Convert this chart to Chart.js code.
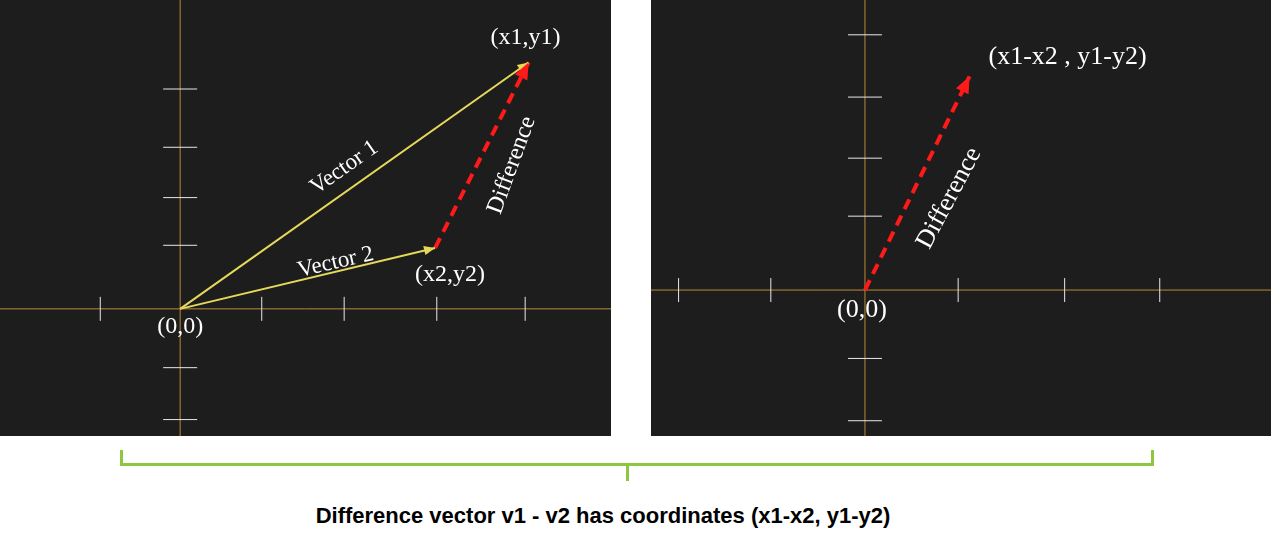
<!DOCTYPE html>
<html>
<head>
<meta charset="utf-8">
<script src="https://cdn.jsdelivr.net/npm/chart.js@4/dist/chart.umd.min.js"></script>
<style>
  body { margin: 0; background: #fff; width: 1271px; height: 538px; position: relative; overflow: hidden; }
  .panel { position: absolute; top: 0; height: 436px; background: #1d1d1d; }
  #leftBox { left: 0; width: 611px; }
  #rightBox { left: 651px; width: 620px; }
  .br { position: absolute; background: #8dc63f; }
  #caption { position: absolute; top: 503px; left: 0; width: 1206px; text-align: center;
    font: bold 22px "Liberation Sans", Arial, sans-serif; color: #000; }
</style>
</head>
<body>
<div class="panel" id="leftBox"><canvas id="leftChart"></canvas></div>
<div class="panel" id="rightBox"><canvas id="rightChart"></canvas></div>
<div class="br" style="left:120px;top:463px;width:1034px;height:3px"></div>
<div class="br" style="left:120px;top:450px;width:3px;height:16px"></div>
<div class="br" style="left:1151px;top:450px;width:3px;height:16px"></div>
<div class="br" style="left:626px;top:463px;width:3px;height:18px"></div>
<div id="caption">Difference vector v1 - v2 has coordinates (x1-x2, y1-y2)</div>
<script>
// vectors (units of tick spacing)
const origin = [0, 0];
const vector1 = [4.1, 4.65];
const vector2 = [3.0, 1.15];
const diff = [vector1[0] - vector2[0], vector1[1] - vector2[1]];
const leftTicksX = [-0.94, 0.96, 1.93, 3.02, 4.06];
const leftTicksY = [-2.09, -1.11, 1.2, 2.1, 3.05, 4.15];
const rightTicksX = [-1.96, -0.99, 0.98, 2.1, 3.1];
const rightTicksY = [-2.14, -1.12, 1.21, 2.16, 3.16, 4.18];

const serif = '"Liberation Serif", "DejaVu Serif", serif';

function arrowHead(ctx, x0, y0, x1, y1, color, size) {
    const a = Math.atan2(y1 - y0, x1 - x0);
    ctx.fillStyle = color;
    ctx.beginPath();
    ctx.moveTo(x1, y1);
    ctx.lineTo(x1 - size * Math.cos(a - 0.4), y1 - size * Math.sin(a - 0.4));
    ctx.lineTo(x1 - size * Math.cos(a + 0.4), y1 - size * Math.sin(a + 0.4));
    ctx.closePath();
    ctx.fill();
}

function label(ctx, text, x, y, angle, size) {
    ctx.save();
    ctx.translate(x, y);
    ctx.rotate(angle * Math.PI / 180);
    ctx.fillStyle = '#fff';
    ctx.font = size + 'px ' + serif;
    ctx.textAlign = 'center';
    ctx.textBaseline = 'middle';
    ctx.fillText(text, 0, 0);
    ctx.restore();
}

// axes, ticks, arrowheads and labels
function axesPlugin(ticksX, ticksY, labels) {
    return {
        id: 'axes',
        beforeDatasetsDraw(chart) {
            const ctx = chart.ctx, xs = chart.scales.x, ys = chart.scales.y;
            const ox = xs.getPixelForValue(0), oy = ys.getPixelForValue(0);
            ctx.save();
            ctx.strokeStyle = '#b98a35';
            ctx.lineWidth = 1;
            ctx.beginPath();
            ctx.moveTo(xs.left, oy); ctx.lineTo(xs.right, oy);
            ctx.moveTo(ox, ys.top); ctx.lineTo(ox, ys.bottom);
            ctx.stroke();
            ctx.strokeStyle = '#e8e8e8';
            ctx.beginPath();
            ticksX.forEach(t => { const p = xs.getPixelForValue(t); ctx.moveTo(p, oy - 12); ctx.lineTo(p, oy + 12); });
            ticksY.forEach(t => { const p = ys.getPixelForValue(t); ctx.moveTo(ox - 17, p); ctx.lineTo(ox + 17, p); });
            ctx.stroke();
            ctx.restore();
        },
        afterDatasetsDraw(chart) {
            const ctx = chart.ctx;
            chart.data.datasets.forEach((ds, i) => {
                const pts = chart.getDatasetMeta(i).data;
                arrowHead(ctx, pts[0].x, pts[0].y, pts[1].x, pts[1].y, ds.borderColor, ds.headSize);
            });
            labels(ctx, chart.scales.x, chart.scales.y);
        }
    };
}

function seg(a, b, color, width, dash, head) {
    return {
        data: [{ x: a[0], y: a[1] }, { x: b[0], y: b[1] }],
        showLine: true, borderColor: color, borderWidth: width, borderDash: dash,
        pointRadius: 0, headSize: head
    };
}

function baseOptions(xr, yr) {
    return {
        responsive: true, maintainAspectRatio: false, animation: false,
        layout: { padding: 0 },
        plugins: { legend: { display: false }, tooltip: { enabled: false } },
        scales: {
            x: { type: 'linear', min: xr[0], max: xr[1], display: false },
            y: { type: 'linear', min: yr[0], max: yr[1], display: false }
        }
    };
}

// Left chart
new Chart(document.getElementById('leftChart'), {
    type: 'scatter',
    data: { datasets: [
        seg(origin, vector1, '#e6d95a', 2, [], 12),
        seg(origin, vector2, '#e6d95a', 2, [], 12),
        seg(vector2, vector1, '#ff1a1a', 4, [11, 7], 18)
    ] },
    options: baseOptions([-2.12, 5.07], [-2.4, 5.83]),
    plugins: [axesPlugin(leftTicksX, leftTicksY, (ctx, xs, ys) => {
        const P = p => [xs.getPixelForValue(p[0]), ys.getPixelForValue(p[1])];
        const o = P(origin), v1 = P(vector1), v2 = P(vector2);
        label(ctx, '(x1,y1)', v1[0] - 3, v1[1] - 25, 0, 24);
        label(ctx, '(x2,y2)', v2[0] + 15, v2[1] + 27, 0, 24);
        label(ctx, '(0,0)', o[0], o[1] + 18, 0, 24);
        label(ctx, 'Vector 1', (o[0] + v1[0]) / 2 - 10, (o[1] + v1[1]) / 2 - 18, -35, 23);
        label(ctx, 'Vector 2', (o[0] + v2[0]) / 2 + 28, (o[1] + v2[1]) / 2 - 16, -13, 23);
        label(ctx, 'Difference', (v1[0] + v2[0]) / 2 + 30, (v1[1] + v2[1]) / 2 + 10, -70, 24);
    })]
});

// Right chart
new Chart(document.getElementById('rightChart'), {
    type: 'scatter',
    data: { datasets: [
        seg(origin, diff, '#ff1a1a', 4, [11, 7], 18)
    ] },
    options: baseOptions([-2.25, 4.27], [-2.39, 4.75]),
    plugins: [axesPlugin(rightTicksX, rightTicksY, (ctx, xs, ys) => {
        const P = p => [xs.getPixelForValue(p[0]), ys.getPixelForValue(p[1])];
        const o = P(origin), d = P(diff);
        label(ctx, '(x1-x2 , y1-y2)', d[0] + 98, d[1] - 19, 0, 26);
        label(ctx, '(0,0)', o[0] - 3, o[1] + 20, 0, 26);
        label(ctx, 'Difference', (o[0] + d[0]) / 2 + 32, (o[1] + d[1]) / 2 + 15, -62, 26);
    })]
});
</script>
</body>
</html>
